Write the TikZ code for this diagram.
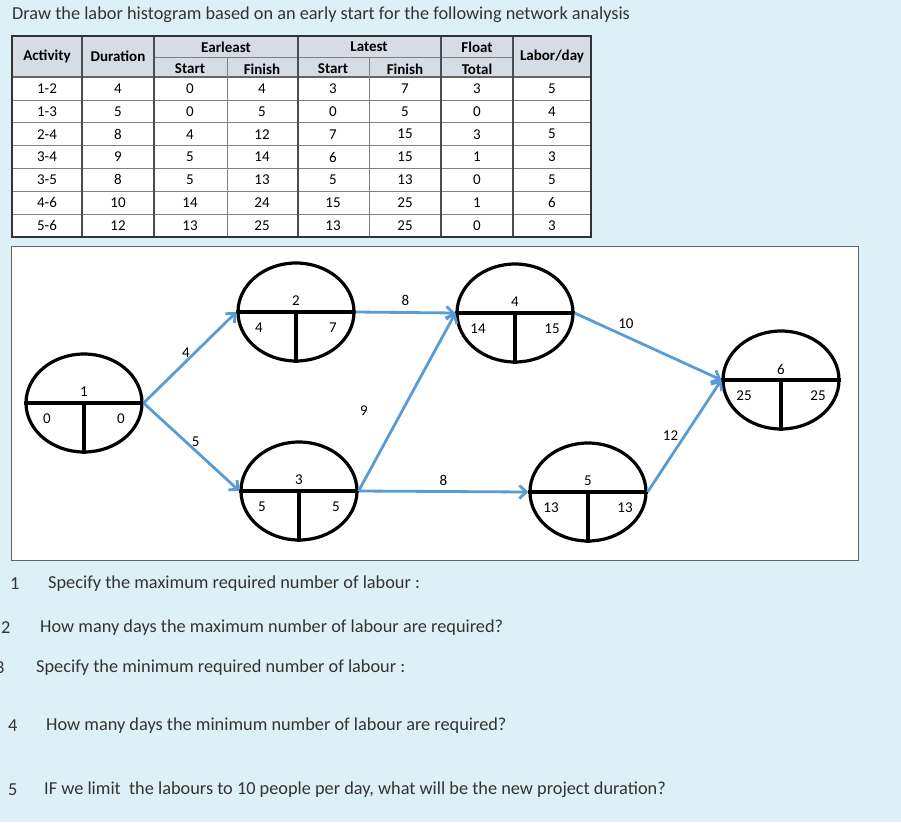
\documentclass[tikz,border=0pt]{standalone}
\usepackage{fontspec}
\setmainfont{Carlito}
\usetikzlibrary{shapes.geometric,arrows.meta}
\definecolor{bg}{HTML}{DDF0F8}
\definecolor{hd}{HTML}{D6DCE4}
\definecolor{ab}{HTML}{5B9BD5}
\definecolor{tx}{HTML}{333333}
\begin{document}
\begin{tikzpicture}[x=1pt,y=-1pt,
  ev/.style={ellipse,draw=black,line width=3.2pt,minimum width=116pt,minimum height=98pt,inner sep=0pt},
  arr/.style={draw=ab,line width=2.8pt,-{Straight Barb[length=7pt,width=13pt]}},
  lab/.style={font=\fontsize{15}{17}\selectfont,inner sep=1pt},
  cell/.style={font=\fontsize{15}{17}\selectfont,inner sep=0pt},
  hcell/.style={font=\bfseries\fontsize{15}{17}\selectfont,inner sep=0pt},
  q/.style={font=\fontsize{18.3}{21}\selectfont,text=tx,anchor=west,inner sep=0pt}]
\fill[bg] (0,0) rectangle (901,822);
\useasboundingbox (0,0) rectangle (901,822);
\node[anchor=west,text=tx,font=\fontsize{18.3}{21}\selectfont,inner sep=0pt] (title) at (12,15) {Draw the labor histogram based on an early start for the following network analysis};
% table
\fill[hd] (12,36) rectangle (591,77);
\fill[white] (12,77) rectangle (591,237);
\foreach \y in {99.9,122.7,145.6,168.4,191.3,214.1} \draw[gray,line width=0.6pt] (12,\y) -- (591,\y);
\draw[gray!80!black,line width=1.2pt] (12,77) -- (591,77);
\draw[gray,line width=0.8pt] (154,57) -- (513,57);
\foreach \x in {82,154,298,441,513} \draw[black!70,line width=1.4pt] (\x,36) -- (\x,237);
\foreach \x in {227,369} \draw[gray,line width=0.8pt] (\x,57) -- (\x,237);
\draw[black!80,line width=1.5pt] (12,36) rectangle (591,237);
\node[hcell] (hA) at (47,56) {Activity};
\node[hcell] (hD) at (118,56) {Duration};
\node[hcell] (hE) at (226,47) {Earleast};
\node[hcell] (hL) at (369,47) {Latest};
\node[hcell] (hF) at (477,47) {Float};
\node[hcell] (hLab) at (552,56) {Labor/day};
\node[hcell] (h1) at (190,69) {Start};
\node[hcell] (h2) at (262,69) {Finish};
\node[hcell] (h3) at (333,69) {Start};
\node[hcell] (h4) at (405,69) {Finish};
\node[hcell] (h5) at (477,69) {Total};
\foreach \r/\a/\b/\c/\d/\e/\f/\g/\h in {0/1-2/4/0/4/3/7/3/5,1/1-3/5/0/5/0/5/0/4,2/2-4/8/4/12/7/15/3/5,3/3-4/9/5/14/6/15/1/3,4/3-5/8/5/13/5/13/0/5,5/4-6/10/14/24/15/25/1/6,6/5-6/12/13/25/13/25/0/3}{
  \pgfmathsetmacro\yy{88.5+22.85*\r}
  \node[cell] at (47,\yy) {\a};
  \node[cell] at (118,\yy) {\b};
  \node[cell] at (190,\yy) {\c};
  \node[cell] at (262,\yy) {\d};
  \node[cell] at (333,\yy) {\e};
  \node[cell] at (405,\yy) {\f};
  \node[cell] at (477,\yy) {\g};
  \node[cell] at (552,\yy) {\h};
}
% network frame
\draw[fill=white,draw=gray!80!black,line width=0.8pt] (11,246) rectangle (858,560);
\foreach \n/\x/\y/\l/\a/\b in {n1/84/403/1/0/0,n2/296/312/2/4/7,n3/299/491/3/5/5,n4/515/313/4/14/15,n5/588/492/5/13/13,n6/781/380/6/25/25}{
  \node[ev] (\n) at (\x,\y) {};
  \draw[line width=3.2pt] (\n.west) -- (\n.east);
  \draw[line width=3.2pt] (\n.center) -- (\n.south);
  \node[lab] at (\x,\y-11) {\l};
  \node[lab] at (\x-37,\y+16) {\a};
  \node[lab] at (\x+37,\y+16) {\b};
}
\draw[arr] (n1.east) -- (n2.west) node[lab,pos=0.5,above left=-2pt] {4};
\draw[arr] (n1.east) -- (n3.west) node[lab,pos=0.5,above right=-2pt] {5};
\draw[arr] (n2.east) -- (n4.west) node[lab,pos=0.5,above=4pt] {8};
\draw[arr] (n3.east) -- (n4.west) node[lab,pos=0.45,left=32pt] {9};
\draw[arr] (n3.east) -- (n5.west) node[lab,pos=0.5,above=3pt] {8};
\draw[arr] (n4.east) -- (n6.west) node[lab,pos=0.35,above=5pt] {10};
\draw[arr] (n5.east) -- (n6.west) node[lab,pos=0.5,left=4pt] {12};
% questions
\node[q] (q1n) at (10,584) {1};
\node[q] (q1) at (48,584) {Specify the maximum required number of labour :};
\node[q] (q2n) at (1,628) {2};
\node[q] (q2) at (40,628) {How many days the maximum number of labour are required?};
\node[q] (q3n) at (-5,668) {3};
\node[q] (q3) at (36,668) {Specify the minimum required number of labour :};
\node[q] (q4n) at (8,726) {4};
\node[q] (q4) at (46,726) {How many days the minimum number of labour are required?};
\node[q] (q5n) at (8,790) {5};
\node[q] (q5) at (44,790) {IF we limit\ \ the labours to 10 people per day, what will be the new project duration?};
\end{tikzpicture}
\end{document}
